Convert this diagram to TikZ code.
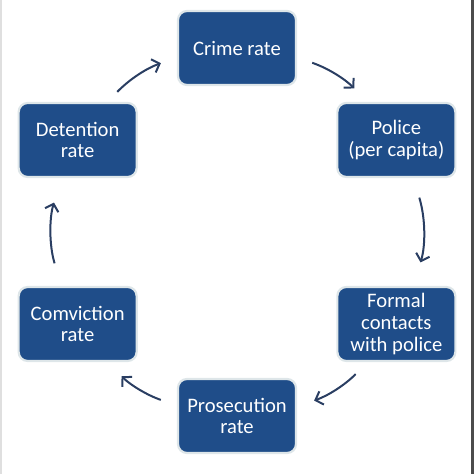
\documentclass[tikz,border=0pt]{standalone}
\usepackage{fontspec}
\setmainfont{Carlito}
\usetikzlibrary{arrows.meta}
\definecolor{boxblue}{RGB}{31,77,137}
\definecolor{boxrim}{RGB}{222,230,233}
\definecolor{arrowblue}{RGB}{42,62,98}

\begin{document}
\begin{tikzpicture}[x=0.5pt, y=0.5pt,
		ratebox/.style={draw=boxrim, line width=1.1pt, fill=boxblue, rounded corners=4.5pt,
			text=white, minimum width=59pt, minimum height=37pt, inner sep=0pt,
			align=center, font=\fontsize{10.3}{10.9}\selectfont},
		cyclearrow/.style={draw=arrowblue, line width=1pt,
			-{Straight Barb[length=3.3pt,width=7pt]}}]
		
		% Page frame
		\useasboundingbox (-237,-242) rectangle (237,232);
		\fill[gray!25] (-237,-242) rectangle (-235,232);
		\fill[black!70] (234,-242) rectangle (237,232);
		
		% Stages, on a circle round the hub
		\coordinate (hub) at (0,0);
		\node[ratebox] (crime) at (90:184) {Crime rate};
		\node[ratebox] (police) at (30:184) {Police\\(per capita)};
		\node[ratebox] (contacts) at (-30:184) {Formal\\contacts\\with police};
		\node[ratebox] (prosecution) at (-90:184) {Prosecution\\rate};
		\node[ratebox] (conviction) at (-150:184) {Comviction\\rate};
		\node[ratebox] (detention) at (150:184) {Detention\\rate};
		
		% Arrows round the cycle
		\draw[cyclearrow, shorten <=8pt, shorten >=9.5pt] (crime.-9.5) to[bend left=13] (police.127.4);
		\draw[cyclearrow, shorten <=10.2pt, shorten >=12.3pt] (police.-66.5) to[bend left=17] (contacts.66.5);
		\draw[cyclearrow, shorten <=8.5pt, shorten >=9pt] (contacts.-127.4) to[bend left=13] (prosecution.9.5);
		\draw[cyclearrow, shorten <=8.5pt, shorten >=10pt] (prosecution.170.5) to[bend left=13] (conviction.-52.6);
		\draw[cyclearrow, shorten <=11.8pt, shorten >=12.8pt] (conviction.113.5) to[bend left=17] (detention.-113.5);
		\draw[cyclearrow, shorten <=7pt, shorten >=8.5pt] (detention.52.6) to[bend left=13] (crime.189.5);
		
	\end{tikzpicture}
\end{document}
